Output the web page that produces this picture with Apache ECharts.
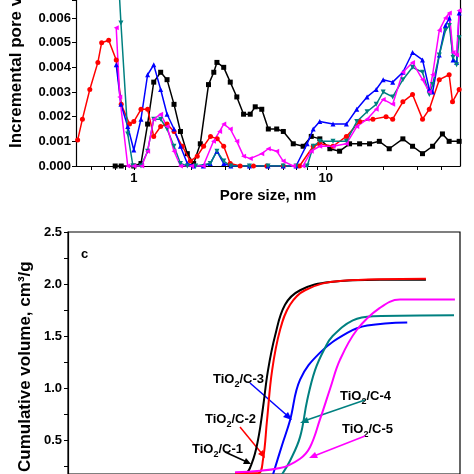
<!DOCTYPE html>
<html><head><meta charset="utf-8">
<script src="https://cdn.jsdelivr.net/npm/echarts@6/dist/echarts.min.js"></script>
<style>html,body{margin:0;padding:0;background:#fff}#c{width:474px;height:474px}</style>
</head><body><div id="c"></div>
<script>
// ---- Top panel: incremental pore volume ----
const topXLabels = [1, 10];
const topXTicks = [0.6,0.7,0.8,0.9,1,2,3,4,5,6,7,8,9,10,20,30,40];
const topYTicks = [0, 0.001, 0.002, 0.003, 0.004, 0.005, 0.006];
const s1x = [0.8,0.86,1.0,1.09,1.18,1.27,1.38,1.49,1.62,1.75,1.9,2.05,2.22,2.45,2.61,2.71,2.94,3.18,3.44,3.73,4.04,4.29,4.64,5.02,5.55,6.01,6.77,7.62,8.4,9.31,10.5,11.8,13.3,15,16.9,19,21.4,25.2,28.3,31.9,36,40.5,43.9,49.5];
const s1y = [0,0,0,0.0001,0.0017,0.0034,0.0038,0.0035,0.0025,0.0014,0.0005,0.0001,0.0009,0.0033,0.0038,0.0042,0.004,0.0034,0.0028,0.0021,0.0021,0.0024,0.0023,0.0015,0.0015,0.0014,0.0009,0.0008,0.0012,0.0011,0.0007,0.0006,0.0009,0.0009,0.0009,0.001,0.0007,0.0011,0.0008,0.0005,0.0008,0.0013,0.001,0.001];
const s2x = [0.51,0.54,0.59,0.65,0.68,0.74,0.81,0.86,0.95,1.0,1.09,1.18,1.27,1.38,1.49,1.62,1.79,1.97,2.14,2.31,2.51,2.72,2.94,3.18,3.58,4.2,4.93,6.0,7.3,8.6,9.3,10.9,12.8,15,17.6,20.6,22.3,25.2,28.3,31.9,34.6,39,43.9,45.7,49.5];
const s2y = [0.00105,0.0019,0.0031,0.0042,0.005,0.0051,0.0043,0.0025,0.0017,0.0018,0.0023,0.0023,0.0012,0.0016,0.0017,0.0014,0.0008,0.0002,0.0004,0.0008,0.0012,0.0011,0.0008,0.0001,0,0,0,0,0,0.0008,0.0009,0.0008,0.0012,0.0018,0.0019,0.002,0.0019,0.0026,0.0029,0.0019,0.0023,0.0035,0.0037,0.0026,0.0031];
const s3x = [0.81,0.857,0.93,1.0,1.09,1.18,1.27,1.38,1.49,1.62,1.75,1.9,2.05,2.3,2.5,2.71,2.94,3.2,4,5,6,7,8.0,8.6,9.3,10.9,12.8,14.5,16.4,18.3,19.9,22.3,25.2,28.3,31.9,34.6,36,39,42,44,46,48,49.5];
const s3y = [0.0041,0.0025,0.0016,0.00065,0.0019,0.0037,0.0041,0.0031,0.0021,0.0015,0.0008,0.0001,0,0,0.0001,0.0006,0.0001,0,0,0,0,0,0.0009,0.0015,0.0018,0.0017,0.0017,0.0023,0.0028,0.0031,0.0035,0.0034,0.0038,0.0046,0.0043,0.0031,0.003,0.0045,0.0057,0.006,0.0043,0.0042,0.0062];
const s4x = [0.82,0.857,0.93,0.99,1.09,1.18,1.27,1.38,1.49,1.62,1.75,1.9,2.1,2.5,2.71,2.94,3.2,4,5,6,7,8.0,8.6,9.3,10.9,12.8,14.5,16.4,18.3,19.9,22.3,25.2,28.3,31.9,34.6,36,39,42,44,46,48,49.5];
const s4y = [0.0085,0.0058,0.0013,0,0,0.0006,0.0019,0.0019,0.0015,0.0008,0.0001,0,0,0.0001,0.0006,0.0002,0,0,0,0,0,0,0.0008,0.001,0.001,0.001,0.0018,0.0022,0.0025,0.003,0.0028,0.0035,0.004,0.0038,0.0029,0.0033,0.0045,0.0055,0.0057,0.0044,0.0041,0.0052];
const s5x = [0.81,0.845,0.93,1.0,1.1,1.18,1.27,1.38,1.49,1.62,1.75,2.0,2.3,2.6,2.8,2.94,3.18,3.44,3.73,4.04,4.64,5.02,5.55,6.0,6.77,7.6,8.4,9.3,10.9,12.8,14.5,16.4,18.3,19.9,22.3,25.2,28.3,31.9,34.6,36,39,42,44,46,48,49.5];
const s5y = [0.0056,0.0028,0,0,0,0.0006,0.0019,0.0021,0.0016,0.0006,0,0,0,0.001,0.0014,0.0017,0.0015,0.001,0.0004,0.0003,0.0005,0.0007,0.0006,0.0002,0,0,0.0006,0.0008,0.0008,0.0009,0.0016,0.0019,0.0023,0.0027,0.0025,0.0038,0.0042,0.0035,0.003,0.0037,0.0055,0.006,0.0062,0.0046,0.0045,0.0063];
// ---- Bottom panel: cumulative volume ----
const bYTicks = [0.5, 1.0, 1.5, 2.0, 2.5];
const bYMinor = [0.25,0.5,0.75,1.0,1.25,1.5,1.75,2.0,2.25,2.5];
const c1x = [3.56,4.0,4.34,4.66,4.94,5.24,5.69,6.4,7.64,10.9,19.5,33.5];
const c1y = [0.18,0.18,0.28,0.5,0.81,1.17,1.5,1.8,1.94,2.02,2.04,2.04];
const c2x = [3.56,4.66,4.94,5.18,5.5,6.04,6.79,8.1,12.2,33.5];
const c2y = [0.18,0.18,0.31,0.69,1.17,1.56,1.8,1.94,2.03,2.05];
const c3x = [5.56,6.18,6.79,7.64,9.66,13.3,16.8,26.9];
const c3y = [0.17,0.45,0.69,1.08,1.34,1.53,1.6,1.63];
const c4x = [6.18,6.79,7.64,8.3,9.1,10.2,11.2,14.2,18,46.6];
const c4y = [0.17,0.3,0.53,0.88,1.17,1.38,1.5,1.65,1.69,1.7];
const c5x = [3.56,6.04,7.64,8.58,9.66,10.9,12.2,14.9,19.5,24.7,47.1];
const c5y = [0.19,0.23,0.32,0.43,0.7,1.0,1.27,1.56,1.77,1.85,1.85];
const names = ['TiO2/C-1','TiO2/C-2','TiO2/C-3','TiO2/C-4','TiO2/C-5'];
const colors = ['#000000','#ff0000','#0000ff','#008080','#ff00ff'];

const zip = (a,b)=>a.map((v,i)=>[v,b[i]]);
const F = 'Liberation Sans, Arial, sans-serif';
const chart = echarts.init(document.getElementById('c'));
const topS = [[s1x,s1y,'rect'],[s2x,s2y,'circle'],[s3x,s3y,'triangle'],[s4x,s4y,'path://M0,0L10,0L5,10Z'],[s5x,s5y,'path://M10,0L10,10L0,5Z']];
const botS = [[c1x,c1y],[c2x,c2y],[c3x,c3y],[c4x,c4y],[c5x,c5y]];
const series = [];
topS.forEach((s,i)=>series.push({type:'line',xAxisIndex:0,yAxisIndex:0,name:names[i],data:zip(s[0],s[1]),symbol:s[2],symbolSize:5,
  lineStyle:{color:colors[i],width:1.5},itemStyle:{color:colors[i]},z:i===0?1:2}));
botS.forEach((s,i)=>series.push({type:'line',xAxisIndex:1,yAxisIndex:2,data:zip(s[0],s[1]),symbol:'none',smooth:0.4,
  lineStyle:{color:colors[i],width:2},z:i}));
const lab = {color:'#000',fontFamily:F,fontWeight:'bold',fontSize:13};
const axL = {show:true,lineStyle:{color:'#000',width:1.2}};
const rich = {a:{font:'bold 13px '+F,fill:'#000'},s:{font:'bold 9px '+F,padding:[10,0,0,0]}};
const tl = (x,y,n)=>({type:'text',x,y,style:{rich,text:'{a|TiO}{s|2}{a|/C-'+n+'}'}});
chart.setOption({
  animation:false,
  grid:[{left:76,right:14,top:0,bottom:308},
        {left:68,right:14,top:232,bottom:0,show:true,borderColor:'#000',borderWidth:1.2}],
  xAxis:[{type:'log',gridIndex:0,min:0.5,max:50,axisLine:axL,splitLine:{show:false},
     axisTick:{customValues:topXTicks,length:4,inside:false,lineStyle:{color:'#000'}},
     axisLabel:{customValues:topXLabels,...lab,fontSize:13,margin:6},
     name:'Pore size, nm',nameLocation:'middle',nameGap:22,nameTextStyle:{...lab,fontSize:15}},
    {type:'log',gridIndex:1,min:0.5,max:50,axisLine:axL,splitLine:{show:false},axisTick:{show:false},axisLabel:{show:false}}],
  yAxis:[{type:'value',gridIndex:0,min:0,max:0.00673,interval:0.001,axisLine:axL,splitLine:{show:false},
     axisTick:{length:4,lineStyle:{color:'#000'}},
     axisLabel:{...lab,margin:5,formatter:v=>topYTicks.includes(+v.toFixed(3))?v.toFixed(3):''}},
    {type:'value',gridIndex:0,position:'right',min:0,max:0.00673,axisLine:axL,axisTick:{show:false},axisLabel:{show:false},splitLine:{show:false}},
    {type:'value',gridIndex:1,min:0.173,max:2.5,axisLine:axL,splitLine:{show:false},
     axisTick:{customValues:bYMinor,length:4,lineStyle:{color:'#000'}},
     axisLabel:{customValues:bYTicks,...lab,margin:6,formatter:v=>v.toFixed(1)}}],
  series,
  graphic:[
    {type:'text',x:16,y:148,rotation:Math.PI/2,style:{text:'Incremental pore volume, cm³/g',font:'bold 17px '+F,fill:'#000',textAlign:'left',textVerticalAlign:'middle'}},
    {type:'text',x:25,y:472,rotation:Math.PI/2,style:{text:'Cumulative volume, cm³/g',font:'bold 17px '+F,fill:'#000',textAlign:'left',textVerticalAlign:'middle'}},
    {type:'text',x:81,y:248,style:{text:'c',font:'bold 13px '+F,fill:'#000'}},
    tl(213,370,3), tl(205,410,2), tl(192,440,1), tl(340,387,4), tl(342,420,5),
    {type:'line',shape:{x1:250,y1:383,x2:290,y2:418},style:{stroke:'#0000ff',lineWidth:1.5}},
    {type:'polygon',shape:{points:[[292,420],[283,417],[288,412]]},style:{fill:'#0000ff'}},
    {type:'line',shape:{x1:240,y1:427,x2:263,y2:455},style:{stroke:'#ff0000',lineWidth:1.5}},
    {type:'polygon',shape:{points:[[265,458],[258,454],[263,450]]},style:{fill:'#ff0000'}},
    {type:'line',shape:{x1:225,y1:452,x2:247,y2:462},style:{stroke:'#000',lineWidth:1.5}},
    {type:'polygon',shape:{points:[[251,464],[243,464],[246,458]]},style:{fill:'#000'}},
    {type:'line',shape:{x1:365,y1:400,x2:304,y2:421},style:{stroke:'#008080',lineWidth:1.5}},
    {type:'polygon',shape:{points:[[300,423],[307,417],[309,423]]},style:{fill:'#008080'}},
    {type:'line',shape:{x1:365,y1:436,x2:314,y2:456},style:{stroke:'#ff00ff',lineWidth:1.5}},
    {type:'polygon',shape:{points:[[309,458],[315,452],[318,458]]},style:{fill:'#ff00ff'}}
  ]
});
</script></body></html>
